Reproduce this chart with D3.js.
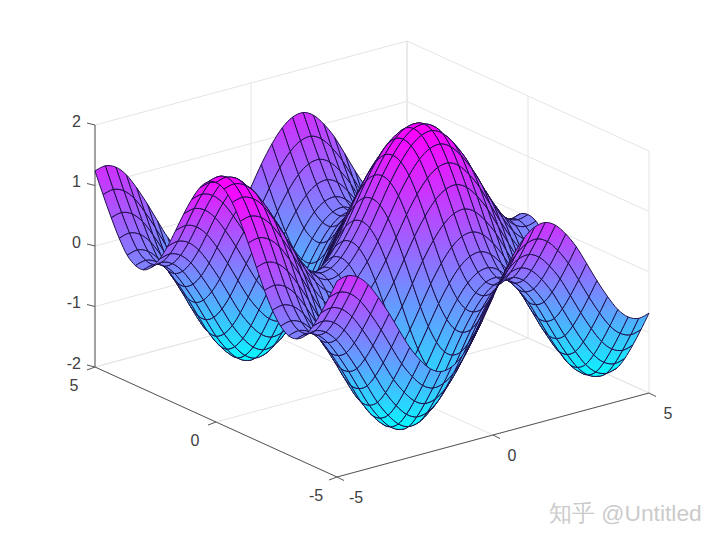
<!DOCTYPE html>
<html>
<head>
<meta charset="utf-8">
<script src="https://cdn.jsdelivr.net/npm/d3@7"></script>
<style>
html,body{margin:0;padding:0;background:#fff}
svg{display:block}
text{font-family:"Liberation Sans",Arial,sans-serif}
</style>
</head>
<body>
<svg id="c" width="720" height="543"></svg>
<script>
const xValues = [-5,-4.67,-4.33,-4,-3.67,-3.33,-3,-2.67,-2.33,-2,-1.67,-1.33,-1,-0.67,-0.33,0,0.33,0.67,1,1.33,1.67,2,2.33,2.67,3,3.33,3.67,4,4.33,4.67,5];
const yValues = [-5,-4.67,-4.33,-4,-3.67,-3.33,-3,-2.67,-2.33,-2,-1.67,-1.33,-1,-0.67,-0.33,0,0.33,0.67,1,1.33,1.67,2,2.33,2.67,3,3.33,3.67,4,4.33,4.67,5];
// one row per x value, one column per y value
const zValues = [
[1.24,.91,.59,.31,.09,-.02,-.03,.07,.27,.54,.86,1.20,1.50,1.75,1.91,1.96,1.91,1.75,1.50,1.20,.86,.54,.27,.07,-.03,-.02,.09,.31,.59,.91,1.24],
[1.28,.95,.63,.35,.13,.02,.01,.11,.31,.58,.90,1.24,1.54,1.79,1.95,2.00,1.95,1.79,1.54,1.24,.90,.58,.31,.11,.01,.02,.13,.35,.63,.95,1.28],
[1.21,.88,.56,.28,.06,-.05,-.06,.04,.24,.51,.83,1.17,1.47,1.72,1.88,1.93,1.88,1.72,1.47,1.17,.83,.51,.24,.04,-.06,-.05,.06,.28,.56,.88,1.21],
[1.04,.71,.39,.11,-.11,-.22,-.23,-.13,.07,.34,.66,1.00,1.30,1.55,1.71,1.76,1.71,1.55,1.30,1.00,.66,.34,.07,-.13,-.23,-.22,-.11,.11,.39,.71,1.04],
[.78,.45,.13,-.15,-.37,-.48,-.49,-.39,-.19,.08,.40,.74,1.04,1.29,1.45,1.50,1.45,1.29,1.04,.74,.40,.08,-.19,-.39,-.49,-.48,-.37,-.15,.13,.45,.78],
[.47,.14,-.18,-.46,-.68,-.79,-.80,-.70,-.50,-.23,.09,.43,.73,.98,1.14,1.19,1.14,.98,.73,.43,.09,-.23,-.50,-.70,-.80,-.79,-.68,-.46,-.18,.14,.47],
[.14,-.19,-.51,-.79,-1.01,-1.12,-1.13,-1.03,-.83,-.56,-.24,.10,.40,.65,.81,.86,.81,.65,.40,.10,-.24,-.56,-.83,-1.03,-1.13,-1.12,-1.01,-.79,-.51,-.19,.14],
[-.18,-.51,-.83,-1.11,-1.33,-1.44,-1.45,-1.35,-1.15,-.88,-.56,-.22,.08,.33,.49,.54,.49,.33,.08,-.22,-.56,-.88,-1.15,-1.35,-1.45,-1.44,-1.33,-1.11,-.83,-.51,-.18],
[-.44,-.77,-1.09,-1.37,-1.59,-1.70,-1.71,-1.61,-1.41,-1.14,-.82,-.48,-.18,.07,.23,.28,.23,.07,-.18,-.48,-.82,-1.14,-1.41,-1.61,-1.71,-1.70,-1.59,-1.37,-1.09,-.77,-.44],
[-.63,-.96,-1.28,-1.56,-1.78,-1.89,-1.90,-1.80,-1.60,-1.33,-1.01,-.67,-.37,-.12,.04,.09,.04,-.12,-.37,-.67,-1.01,-1.33,-1.60,-1.80,-1.90,-1.89,-1.78,-1.56,-1.28,-.96,-.63],
[-.72,-1.05,-1.37,-1.65,-1.87,-1.98,-1.99,-1.89,-1.69,-1.42,-1.10,-.76,-.46,-.21,-.05,0,-.05,-.21,-.46,-.76,-1.10,-1.42,-1.69,-1.89,-1.99,-1.98,-1.87,-1.65,-1.37,-1.05,-.72],
[-.69,-1.02,-1.34,-1.62,-1.84,-1.95,-1.96,-1.86,-1.66,-1.39,-1.07,-.73,-.43,-.18,-.02,.03,-.02,-.18,-.43,-.73,-1.07,-1.39,-1.66,-1.86,-1.96,-1.95,-1.84,-1.62,-1.34,-1.02,-.69],
[-.56,-.89,-1.21,-1.49,-1.71,-1.82,-1.83,-1.73,-1.53,-1.26,-.94,-.60,-.30,-.05,.11,.16,.11,-.05,-.30,-.60,-.94,-1.26,-1.53,-1.73,-1.83,-1.82,-1.71,-1.49,-1.21,-.89,-.56],
[-.34,-.67,-.99,-1.27,-1.49,-1.60,-1.61,-1.51,-1.31,-1.04,-.72,-.38,-.08,.17,.33,.38,.33,.17,-.08,-.38,-.72,-1.04,-1.31,-1.51,-1.61,-1.60,-1.49,-1.27,-.99,-.67,-.34],
[-.05,-.38,-.70,-.98,-1.20,-1.31,-1.32,-1.22,-1.02,-.75,-.43,-.09,.21,.46,.62,.67,.62,.46,.21,-.09,-.43,-.75,-1.02,-1.22,-1.32,-1.31,-1.20,-.98,-.70,-.38,-.05],
[.28,-.05,-.37,-.65,-.87,-.98,-.99,-.89,-.69,-.42,-.10,.24,.54,.79,.95,1,.95,.79,.54,.24,-.10,-.42,-.69,-.89,-.99,-.98,-.87,-.65,-.37,-.05,.28],
[.61,.28,-.04,-.32,-.54,-.65,-.66,-.56,-.36,-.09,.23,.57,.87,1.12,1.28,1.33,1.28,1.12,.87,.57,.23,-.09,-.36,-.56,-.66,-.65,-.54,-.32,-.04,.28,.61],
[.90,.57,.25,-.03,-.25,-.36,-.37,-.27,-.07,.20,.52,.86,1.16,1.41,1.57,1.62,1.57,1.41,1.16,.86,.52,.20,-.07,-.27,-.37,-.36,-.25,-.03,.25,.57,.90],
[1.12,.79,.47,.19,-.03,-.14,-.15,-.05,.15,.42,.74,1.08,1.38,1.63,1.79,1.84,1.79,1.63,1.38,1.08,.74,.42,.15,-.05,-.15,-.14,-.03,.19,.47,.79,1.12],
[1.25,.92,.60,.32,.10,-.01,-.02,.08,.28,.55,.87,1.21,1.51,1.76,1.92,1.97,1.92,1.76,1.51,1.21,.87,.55,.28,.08,-.02,-.01,.10,.32,.60,.92,1.25],
[1.28,.95,.63,.35,.13,.02,.01,.11,.31,.58,.90,1.24,1.54,1.79,1.95,2.00,1.95,1.79,1.54,1.24,.90,.58,.31,.11,.01,.02,.13,.35,.63,.95,1.28],
[1.19,.86,.54,.26,.04,-.07,-.08,.02,.22,.49,.81,1.15,1.45,1.70,1.86,1.91,1.86,1.70,1.45,1.15,.81,.49,.22,.02,-.08,-.07,.04,.26,.54,.86,1.19],
[1.00,.67,.35,.07,-.15,-.26,-.27,-.17,.03,.30,.62,.96,1.26,1.51,1.67,1.72,1.67,1.51,1.26,.96,.62,.30,.03,-.17,-.27,-.26,-.15,.07,.35,.67,1.00],
[.74,.41,.09,-.19,-.41,-.52,-.53,-.43,-.23,.04,.36,.70,1.00,1.25,1.41,1.46,1.41,1.25,1.00,.70,.36,.04,-.23,-.43,-.53,-.52,-.41,-.19,.09,.41,.74],
[.42,.09,-.23,-.51,-.73,-.84,-.85,-.75,-.55,-.28,.04,.38,.68,.93,1.09,1.14,1.09,.93,.68,.38,.04,-.28,-.55,-.75,-.85,-.84,-.73,-.51,-.23,.09,.42],
[.09,-.24,-.56,-.84,-1.06,-1.17,-1.18,-1.08,-.88,-.61,-.29,.05,.35,.60,.76,.81,.76,.60,.35,.05,-.29,-.61,-.88,-1.08,-1.18,-1.17,-1.06,-.84,-.56,-.24,.09],
[-.22,-.55,-.87,-1.15,-1.37,-1.48,-1.49,-1.39,-1.19,-.92,-.60,-.26,.04,.29,.45,.50,.45,.29,.04,-.26,-.60,-.92,-1.19,-1.39,-1.49,-1.48,-1.37,-1.15,-.87,-.55,-.22],
[-.48,-.81,-1.13,-1.41,-1.63,-1.74,-1.75,-1.65,-1.45,-1.18,-.86,-.52,-.22,.03,.19,.24,.19,.03,-.22,-.52,-.86,-1.18,-1.45,-1.65,-1.75,-1.74,-1.63,-1.41,-1.13,-.81,-.48],
[-.65,-.98,-1.30,-1.58,-1.80,-1.91,-1.92,-1.82,-1.62,-1.35,-1.03,-.69,-.39,-.14,.02,.07,.02,-.14,-.39,-.69,-1.03,-1.35,-1.62,-1.82,-1.92,-1.91,-1.80,-1.58,-1.30,-.98,-.65],
[-.72,-1.05,-1.37,-1.65,-1.87,-1.98,-1.99,-1.89,-1.69,-1.42,-1.10,-.76,-.46,-.21,-.05,0,-.05,-.21,-.46,-.76,-1.10,-1.42,-1.69,-1.89,-1.99,-1.98,-1.87,-1.65,-1.37,-1.05,-.72],
[-.68,-1.01,-1.33,-1.61,-1.83,-1.94,-1.95,-1.85,-1.65,-1.38,-1.06,-.72,-.42,-.17,-.01,.04,-.01,-.17,-.42,-.72,-1.06,-1.38,-1.65,-1.85,-1.95,-1.94,-1.83,-1.61,-1.33,-1.01,-.68]
];
const xTicks = [-5,0,5];
const yTicks = [-5,0,5];
const zTicks = [-2,-1,0,1,2];
const watermark = "知乎 @Untitled";

const svg = d3.select("#c");
const defs = svg.append("defs");
const xH = d3.scaleLinear([-5,5],[337,649]);
const yH = d3.scaleLinear([-5,5],[0,-242]);
const xV = d3.scaleLinear([-5,5],[477,393]);
const yV = d3.scaleLinear([-5,5],[0,-110]);
const zV = d3.scaleLinear([-2,2],[0,-242]);
const color = d3.scaleLinear([-2,2],["#00ffff","#ff00ff"]);
const P = (x,y,z)=>[xH(x)+yH(y), xV(x)+yV(y)+zV(z)];
const depth = (x,y,z)=>-0.527*x/10-0.687*y/10+0.5*0.71*z/4;
const path = d3.line();

// back walls and floor grid
const grid = [];
xTicks.forEach(x=>{ grid.push([P(x,-5,-2),P(x,5,-2),P(x,5,2)]); });
yTicks.forEach(y=>{ grid.push([P(-5,y,-2),P(5,y,-2),P(5,y,2)]); });
zTicks.forEach(z=>{ grid.push([P(-5,5,z),P(5,5,z),P(5,-5,z)]); });
svg.append("g").selectAll("path").data(grid).join("path")
  .attr("d",path).attr("fill","none").attr("stroke","#e4e4e4").attr("stroke-width",1);

// axes
const axes = [
  [P(-5,5,-2),P(-5,5,2)],
  [P(-5,5,-2),P(-5,-5,-2)],
  [P(-5,-5,-2),P(5,-5,-2)]
];
svg.append("g").selectAll("path").data(axes).join("path")
  .attr("d",path).attr("fill","none").attr("stroke","#555").attr("stroke-width",1);

const ticks = [];
xTicks.forEach(x=>{const p=P(x,-5,-2); ticks.push([p,[p[0]+7,p[1]+3.5]]);});
yTicks.forEach(y=>{const p=P(-5,y,-2); ticks.push([p,[p[0]-8,p[1]+3]]);});
zTicks.forEach(z=>{const p=P(-5,5,z); ticks.push([p,[p[0]-8,p[1]-2]]);});
svg.append("g").selectAll("path").data(ticks).join("path")
  .attr("d",path).attr("fill","none").attr("stroke","#555").attr("stroke-width",1);

// tick labels
const label = (sel,arr,fn,anchor)=>sel.append("g").selectAll("text").data(arr).join("text")
  .attr("x",d=>fn(d)[0]).attr("y",d=>fn(d)[1])
  .attr("text-anchor",anchor).attr("dominant-baseline","central")
  .attr("font-size",16).attr("fill","#404040").text(d=>d);
label(svg,xTicks,d=>{const p=P(d,-5,-2);return [p[0]+19,p[1]+20];},"middle");
label(svg,yTicks,d=>{const p=P(-5,d,-2);return [p[0]-21,p[1]+18];},"middle");
label(svg,zTicks,d=>{const p=P(-5,5,d);return [p[0]-14,p[1]-4];},"end");

// surface: cells are outlined with smooth (Catmull-Rom) mesh edges and shaded along z
const nx = xValues.length, ny = yValues.length;
const node = (i,j)=>{
  const a=Math.max(0,Math.min(nx-1,i)), b=Math.max(0,Math.min(ny-1,j));
  return P(xValues[a],yValues[b],zValues[a][b]);
};
const seg = (p0,p1,p2,p3)=>{
  const c1=[p1[0]+(p2[0]-p0[0])/6,p1[1]+(p2[1]-p0[1])/6];
  const c2=[p2[0]-(p3[0]-p1[0])/6,p2[1]-(p3[1]-p1[1])/6];
  return `C${c1[0].toFixed(2)},${c1[1].toFixed(2)} ${c2[0].toFixed(2)},${c2[1].toFixed(2)} ${p2[0].toFixed(2)},${p2[1].toFixed(2)}`;
};
const quads = [];
for(let i=0;i<nx-1;i++){
  for(let j=0;j<ny-1;j++){
    const idx=[[i,j],[i+1,j],[i+1,j+1],[i,j+1]];
    const v=idx.map(([a,b])=>[xValues[a],yValues[b],zValues[a][b]]);
    const pts=idx.map(([a,b])=>node(a,b));
    const d="M"+pts[0][0].toFixed(2)+","+pts[0][1].toFixed(2)
      +seg(node(i-1,j),node(i,j),node(i+1,j),node(i+2,j))
      +seg(node(i+1,j-1),node(i+1,j),node(i+1,j+1),node(i+1,j+2))
      +seg(node(i+2,j+1),node(i+1,j+1),node(i,j+1),node(i-1,j+1))
      +seg(node(i,j+2),node(i,j+1),node(i,j),node(i,j-1))+"Z";
    const zs=v.map(q=>q[2]);
    const zMean=d3.mean(zs), zMin=d3.min(zs), zMax=d3.max(zs);
    // screen-space direction in which z changes across the cell
    const d1=[pts[2][0]-pts[0][0],pts[2][1]-pts[0][1]], dz1=zs[2]-zs[0];
    const d2=[pts[3][0]-pts[1][0],pts[3][1]-pts[1][1]], dz2=zs[3]-zs[1];
    const det=d1[0]*d2[1]-d1[1]*d2[0];
    let g=null;
    if(Math.abs(det)>4){
      const a=(dz1*d2[1]-dz2*d1[1])/det, b=(d1[0]*dz2-d2[0]*dz1)/det, n=a*a+b*b;
      if(n>1e-7){
        const cx=d3.mean(pts,p=>p[0]), cy=d3.mean(pts,p=>p[1]);
        g={x1:cx+(zMin-zMean)*a/n,y1:cy+(zMin-zMean)*b/n,x2:cx+(zMax-zMean)*a/n,y2:cy+(zMax-zMean)*b/n,zMin,zMax};
      }
    }
    quads.push({d,z:zMean,g,depth:d3.mean(v,q=>depth(q[0],q[1],q[2]))});
  }
}
quads.sort((a,b)=>a.depth-b.depth);
quads.forEach((q,k)=>{
  if(!q.g) return;
  q.id="g"+k;
  const lg=defs.append("linearGradient").attr("id",q.id).attr("gradientUnits","userSpaceOnUse")
    .attr("x1",q.g.x1).attr("y1",q.g.y1).attr("x2",q.g.x2).attr("y2",q.g.y2);
  lg.append("stop").attr("offset",0).attr("stop-color",color(q.g.zMin));
  lg.append("stop").attr("offset",1).attr("stop-color",color(q.g.zMax));
});
svg.append("g").selectAll("path").data(quads).join("path")
  .attr("d",q=>q.d)
  .attr("fill",q=>q.id?`url(#${q.id})`:color(q.z))
  .attr("stroke","#1c0f4a").attr("stroke-width",1).attr("stroke-linejoin","round");

svg.append("text").attr("x",549).attr("y",521)
  .attr("font-family","'Noto Sans CJK SC','Noto Sans',sans-serif")
  .attr("font-size",22.8).attr("fill","#cbcbcb").text(watermark);
</script>
</body>
</html>
